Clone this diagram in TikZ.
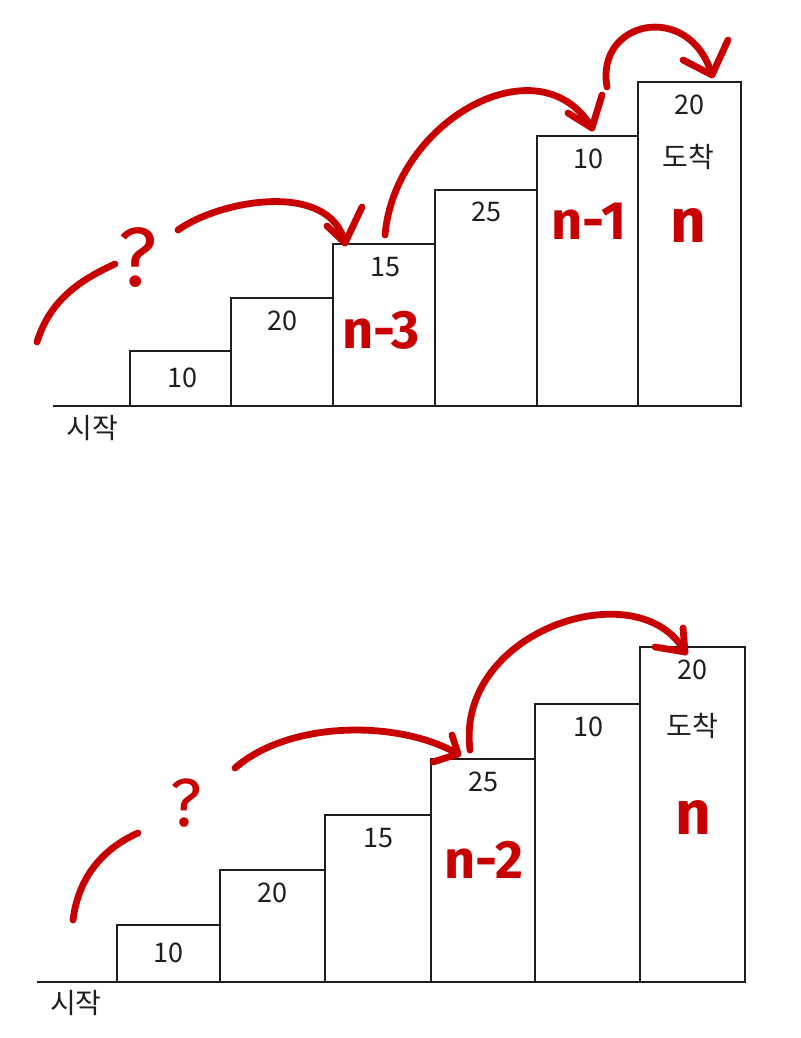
\documentclass[tikz,border=0pt]{standalone}
\usepackage{fontspec}
\setmainfont{Noto Sans CJK KR}
\newfontfamily\handfont{Fira Sans}
\definecolor{pen}{RGB}{200,0,0}
\definecolor{ink}{RGB}{30,30,30}
\tikzset{
  stair/.style={draw=ink, line width=1.2pt},
  num/.style={text=ink, inner sep=0pt, font=\fontsize{13.5}{16}\selectfont},
  word/.style={text=ink, inner sep=0pt, font=\fontsize{14}{16}\selectfont},
  hand/.style={draw=pen, line width=3.4pt, line cap=round, line join=round},
  handtext/.style={text=pen, inner sep=0pt, font=\handfont\bfseries\fontsize{27}{30}\selectfont},
  quest/.style={text=pen, inner sep=0pt, font=\handfont\fontsize{#1}{#1}\selectfont},
}
\begin{document}
\begin{tikzpicture}[x=0.5pt,y=-0.5pt]
  \useasboundingbox (0,0) rectangle (800,1038);
  % upper stairs
  \draw[stair] (53,406) -- (741,406);
  \draw[stair] (130,406) rectangle (231,351);
  \draw[stair] (231,406) rectangle (333,298);
  \draw[stair] (333,406) rectangle (435,244);
  \draw[stair] (435,406) rectangle (537,190);
  \draw[stair] (537,406) rectangle (638,136);
  \draw[stair] (638,406) rectangle (741,82);
  \node[word] (start1) at (92,428) {시작};
  \node[num] (u1) at (182,378) {10};
  \node[num] (u2) at (282,321) {20};
  \node[num] (u3) at (385,267) {15};
  \node[num] (u4) at (486,212) {25};
  \node[num] (u5) at (588,159) {10};
  \node[num] (u6) at (689,105) {20};
  \node[word] (goal1) at (688,157) {도착};
  \node[handtext] (um3) at (381,330) {n-3};
  \node[handtext] (um1) at (589,221) {n-1};
  \node[handtext, font=\handfont\bfseries\fontsize{31}{32}\selectfont] (un) at (688,226) {n};
  \node[quest=42] (uq) at (138,258) {?};
  % upper jumps
  \coordinate (ua0) at (37,342);
  \coordinate (ua1) at (115,264);
  \coordinate (ub0) at (178,230);
  \coordinate (ub1) at (345,243);
  \coordinate (uc0) at (385,235);
  \coordinate (uc1) at (592,128);
  \coordinate (ud0) at (607,87);
  \coordinate (ud1) at (712,75);
  \draw[hand] (ua0) .. controls (50,300) and (80,280) .. (ua1);
  \draw[hand] (ub0) .. controls (220,200) and (330,180) .. (ub1);
  \draw[hand] (ub1) -- ++(-18,-17) (ub1) -- ++(17,-36);
  \draw[hand] (uc0) .. controls (395,120) and (540,40) .. (uc1);
  \draw[hand] (uc1) -- ++(-24,-15) (uc1) -- ++(10,-33);
  \draw[hand] (ud0) .. controls (595,20) and (690,0) .. (ud1);
  \draw[hand] (ud1) -- ++(-29,-15) (ud1) -- ++(16,-35);
  % lower stairs
  \draw[stair] (37,982) -- (745,982);
  \draw[stair] (117,982) rectangle (220,925);
  \draw[stair] (220,982) rectangle (325,870);
  \draw[stair] (325,982) rectangle (431,815);
  \draw[stair] (431,982) rectangle (535,759);
  \draw[stair] (535,982) rectangle (640,704);
  \draw[stair] (640,982) rectangle (745,647);
  \node[word] (start2) at (76,1003) {시작};
  \node[num] (l1) at (168,953) {10};
  \node[num] (l2) at (272,893) {20};
  \node[num] (l3) at (378,838) {15};
  \node[num] (l4) at (483,782) {25};
  \node[num] (l5) at (588,727) {10};
  \node[num] (l6) at (692,670) {20};
  \node[word] (goal2) at (692,726) {도착};
  \node[handtext] (lm2) at (484,860) {n-2};
  \node[handtext, font=\handfont\bfseries\fontsize{31}{32}\selectfont] (ln) at (693,818) {n};
  \node[quest=34] (lq) at (186,803) {?};
  % lower jumps
  \coordinate (la0) at (73,920);
  \coordinate (la1) at (138,833);
  \coordinate (lb0) at (235,768);
  \coordinate (lb1) at (458,754);
  \coordinate (lc0) at (470,750);
  \coordinate (lc1) at (685,652);
  \draw[hand] (la0) .. controls (78,880) and (100,850) .. (la1);
  \draw[hand] (lb0) .. controls (290,720) and (400,720) .. (lb1);
  \draw[hand] (lb1) -- ++(-6,-19) (lb1) -- ++(-25,8);
  \draw[hand] (lc0) .. controls (455,630) and (640,570) .. (lc1);
  \draw[hand] (lc1) -- ++(-2,-24) (lc1) -- ++(-30,-5);
\end{tikzpicture}
\end{document}
